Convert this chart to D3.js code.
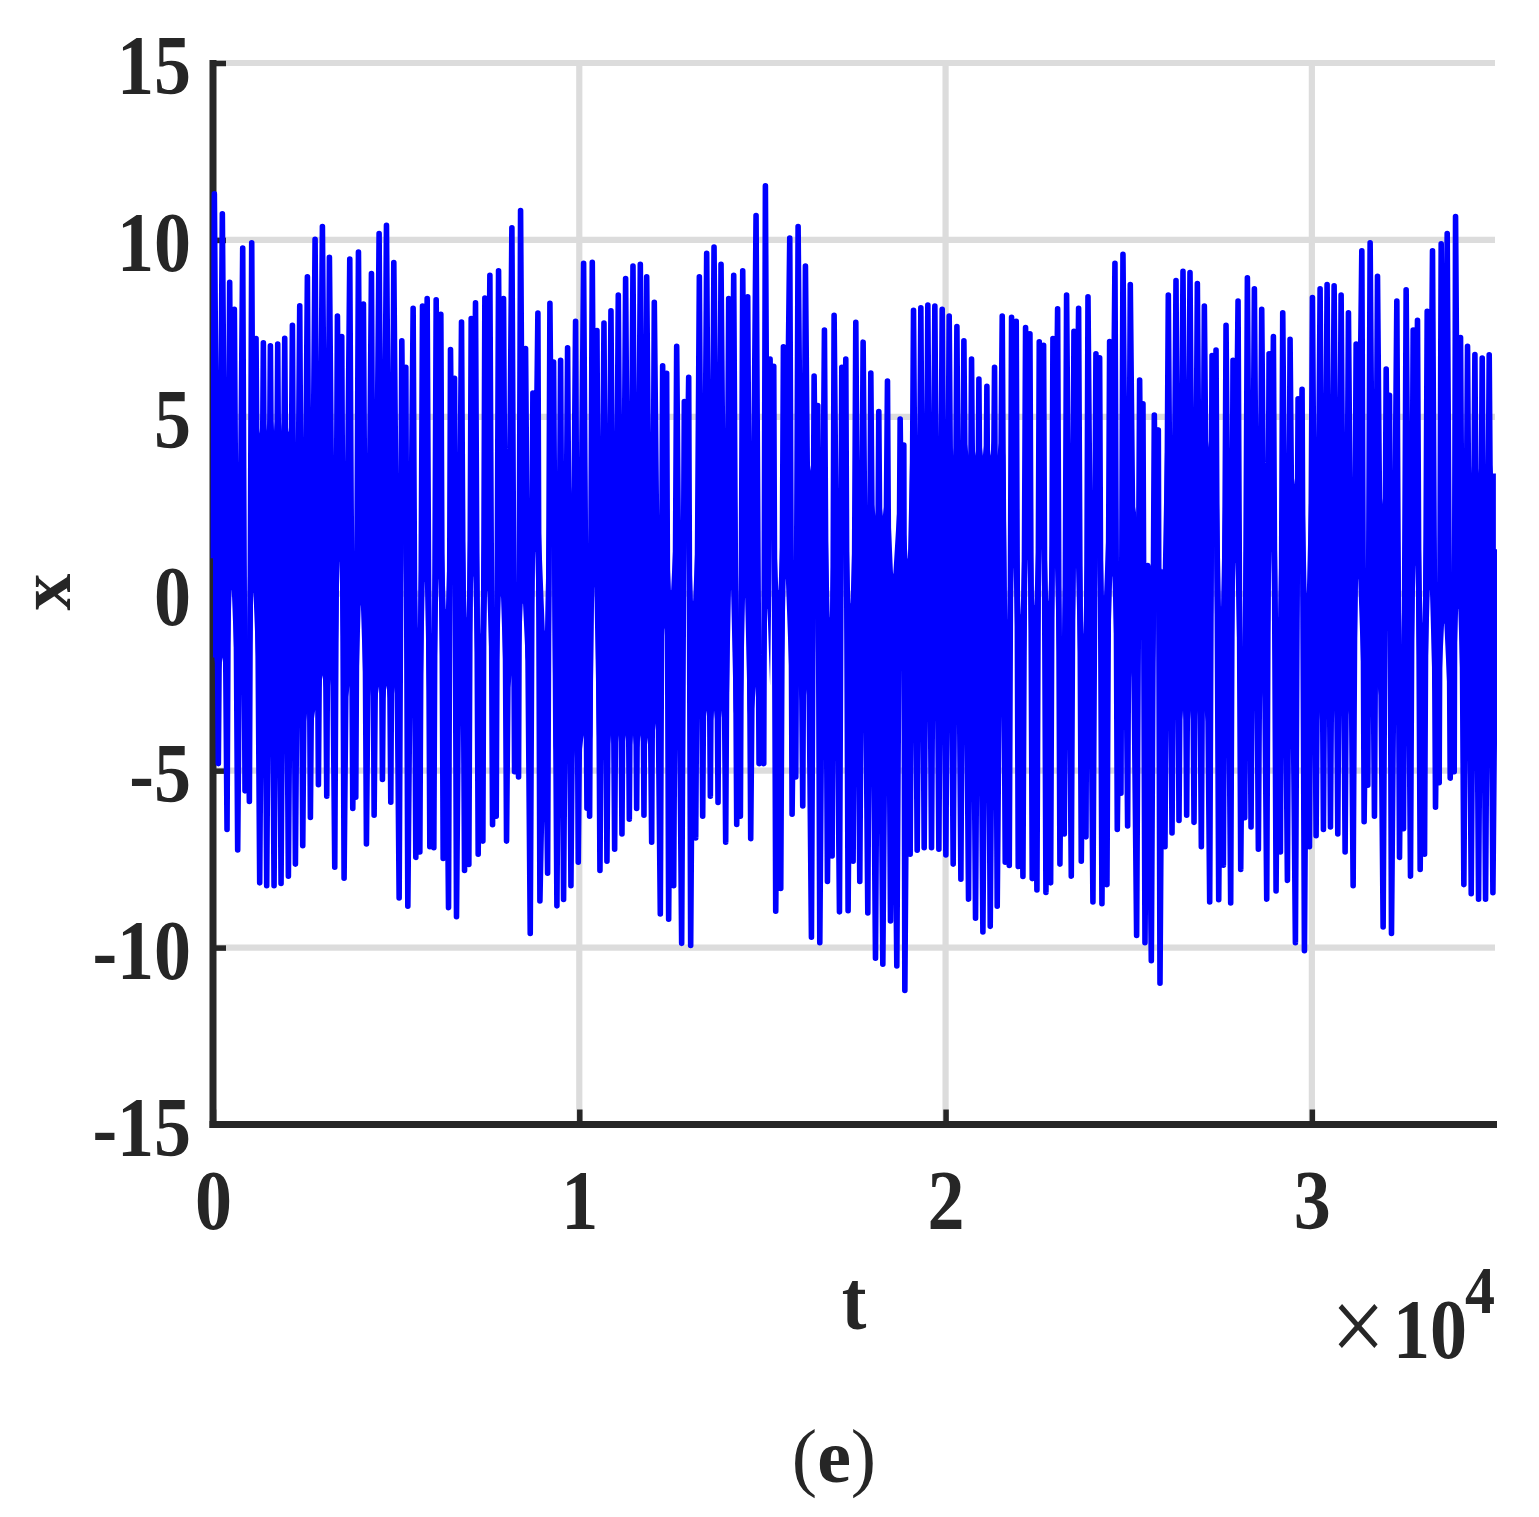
<!DOCTYPE html>
<html><head><meta charset="utf-8">
<script src="https://d3js.org/d3.v7.min.js"></script>
<style>html,body{margin:0;padding:0;background:#fff}svg{display:block}text{font-family:"Liberation Serif",serif;fill:#262626}</style>
</head><body><svg id="c" width="1539" height="1517"></svg>
<script>
const xTicks=[0,10000,20000,30000];
const xTickLabels=["0","1","2","3"];
const yTicks=[-15,-10,-5,0,5,10,15];
const swingT=[0,37,146,255,383,455,510,583,674,811,874,929,993,1057,1102,1175,1275,1375,1466,1567,1667,1767,1858,1958,2058,2168,2250,2368,2450,2577,2659,2787,2878,2987,3106,3178,3324,3397,3452,3515,3579,3734,3816,3861,3898,3971,4035,4107,4189,4326,4399,4535,4626,4736,4854,4936,5082,5155,5200,5264,5319,5464,5537,5592,5647,5720,5783,5847,5920,5974,6029,6093,6156,6220,6284,6357,6430,6484,6539,6594,6648,6785,6867,6921,6985,7049,7104,7167,7240,7295,7368,7422,7486,7559,7632,7677,7732,7796,7860,7932,8014,8160,8233,8288,8342,8397,8460,8533,8661,8733,8797,8870,8925,9062,9135,9198,9253,9298,9389,9490,9571,9681,9772,9899,9972,10118,10209,10245,10282,10355,10409,10482,10564,10674,10755,10865,10965,11065,11165,11265,11366,11466,11566,11666,11766,11840,11976,12048,12212,12276,12331,12385,12440,12504,12577,12659,12795,12868,12932,12987,13041,13105,13178,13278,13369,13478,13578,13679,13788,13870,13997,14079,14143,14216,14298,14343,14398,14462,14526,14598,14680,14826,14908,14963,15036,15081,15136,15209,15263,15309,15363,15436,15500,15573,15637,15746,15810,15855,15910,15974,16101,16174,16338,16411,16465,16511,16566,16693,16775,16839,16903,16957,17103,17167,17221,17276,17339,17403,17476,17549,17658,17749,17877,17959,18087,18177,18287,18414,18496,18569,18669,18760,18815,18860,18888,18970,19033,19125,19225,19325,19416,19516,19616,19707,19817,19908,20008,20099,20208,20309,20418,20500,20627,20709,20818,20910,21019,21128,21219,21337,21410,21547,21629,21684,21739,21802,21857,21929,21984,22048,22112,22184,22239,22303,22366,22421,22494,22558,22613,22676,22740,22804,22868,22931,22986,23059,23122,23177,23241,23304,23432,23505,23560,23632,23705,23760,23833,23888,24023,24105,24142,24206,24269,24324,24406,24479,24552,24624,24688,24743,24788,24843,24970,25043,25216,25298,25344,25389,25444,25517,25617,25699,25754,25808,25854,25927,25990,26081,26182,26291,26373,26482,26582,26673,26783,26874,26983,27065,27211,27275,27329,27384,27457,27520,27584,27657,27784,27848,27912,27985,28058,28112,28167,28240,28340,28431,28540,28631,28768,28832,28896,28950,29023,29078,29141,29205,29333,29405,29551,29624,29679,29733,29797,29861,29934,30016,30116,30225,30316,30416,30508,30608,30708,30799,30908,30999,31127,31209,31263,31364,31427,31482,31527,31591,31709,31792,31946,32029,32074,32120,32174,32320,32393,32447,32502,32574,32693,32766,32829,32884,32957,33021,33076,33149,33221,33294,33376,33431,33476,33531,33613,33695,33777,33832,33886,33923,33996,34059,34150,34250,34351,34451,34551,34651,34742,34842,34943,35024];
const swingX=[1,11.3,-4.8,10.74,-6.66,8.8,0.18,8.04,-7.24,9.77,-5.57,-1.35,-5.87,9.92,0.1,7.21,-8.17,7.09,-8.25,7.01,-8.25,7.06,-8.19,7.22,-7.98,7.59,-7.64,8.14,-7.12,8.96,-6.32,10.02,-5.4,10.38,-5.72,9.51,-7.73,7.85,0.98,7.27,-8.04,9.46,-6.07,-1.8,-5.75,9.66,-0.25,8.19,-7.07,9.05,-6.26,10.18,-5.25,10.41,-5.89,9.36,-8.6,7.15,1.56,6.4,-8.83,8.07,-7.45,-1.04,-7.3,8.13,0.41,8.34,-7.15,-1.2,-7.18,8.31,0.49,7.9,-7.48,-0.51,-8.87,6.9,0.95,6.09,-9.13,7.68,-7.82,-0.74,-7.65,7.78,0.57,8.22,-7.36,-1.2,-6.99,8.36,0.15,9,-6.53,-1.8,-6.29,9.13,0,8.34,-6.99,10.34,-5.03,-1.27,-5.18,10.83,-0.2,6.93,-9.6,5.67,1.26,7.93,-8.68,-1.12,-7.9,8.21,1.41,6.55,-8.82,6.6,-8.64,6.95,-8.25,7.7,-7.59,9.34,-6.06,-1.73,-6.29,9.37,0.26,7.44,-7.82,7.65,-7.56,8,-7.22,8.44,-6.79,8.91,-6.37,9.26,-6.07,9.31,-6.26,8.96,-7.02,8.24,-9.05,6.44,-0.9,6.23,-9.2,0.03,-8.25,6.99,-9.88,5.43,1.87,6.12,-9.94,-0.28,-6.9,8.96,-6.29,9.62,-5.72,9.8,-5.9,9.31,-7.02,8.34,0.18,9,-6.52,-0.74,-6.29,9.13,-0.05,8.39,-6.92,10.69,-4.8,-2.12,-4.8,11.53,-0.35,6.63,1.72,6.43,-8.97,0.03,-8.33,6.98,0.49,10.05,-6.23,-1.8,-5.18,10.38,-6,9.26,-9.71,6.15,0.2,5.32,-9.86,7.45,-8.13,-0.74,-7.41,7.87,-8.99,6.4,1.56,6.63,-8.96,-0.35,-7.56,7.67,-8.13,7.11,-9.02,6.24,-10.3,5.15,-10.47,6.01,-9.25,0.49,-10.52,4.94,-0.58,4.2,-11.21,0.92,-7.36,8.01,-7.25,8.08,-7.18,8.16,-7.18,8.13,-7.22,8.04,-7.38,7.85,-7.64,7.55,-8.07,7.15,-8.63,6.63,-9.17,6.07,-9.56,5.86,-9.4,6.4,-8.83,7.85,-7.59,-0.81,-7.68,7.81,0.8,7.7,-7.71,-0.66,-7.99,7.52,1.03,7.35,-8.05,-0.4,-8.37,7.12,1.33,7.02,-8.44,-0.28,-8.17,7.21,0.8,8.05,-7.64,-1.27,-6.79,8.44,-7.98,7.42,0.8,8.07,-7.56,-1.2,-6.87,8.39,-8.71,6.78,1.1,6.67,-8.76,-0.12,-8.22,7.13,0.57,9.34,-6.66,-1.81,-5.64,9.59,-6.56,8.74,-9.66,6.04,0.3,5.37,-9.86,0.8,-10.37,5.05,-0.43,4.63,-11.01,0.61,-7.15,8.44,-6.76,8.85,-6.41,9.11,-6.26,9.08,-6.46,8.77,-7.15,8.13,-8.71,6.73,1.41,6.89,-8.65,-0.43,-7.67,7.59,-8.74,6.6,0.95,8.27,-7.79,-1.58,-6.33,8.93,-6.59,8.62,-7.22,8.04,-8.63,6.78,1.26,7.27,-8.4,-0.74,-7.3,7.94,-8.1,7.19,-9.86,5.51,1.56,5.78,-10.09,-0.05,-7.15,8.37,-6.84,8.62,-6.66,8.74,-6.59,8.7,-6.79,8.44,-7.3,7.94,-8.25,7.06,0.49,9.69,-6.44,-1.04,-5.41,9.92,-6.29,8.97,-9.42,6.35,0.64,5.61,-9.6,8.27,-7.45,-1.5,-6.64,8.59,-7.98,7.45,0.87,7.73,-7.79,-0.89,-7.36,7.98,0.18,9.69,-6.03,-0.81,-5.34,9.89,-0.77,10.18,-5.21,-0.74,-5.03,10.66,-0.35,7.24,-8.22,6.99,-8.48,6.76,-8.63,6.66,-8.63,6.75,-8.45,1.26];
// Solid core of the trace: where each stretch ends, and its upper and lower edge.
const coreEnd=[1193,2104,2832,3561,5109,6293,6931,8297,9116,10027,12121,13214,14762,15582,16402,18952,21684,24051,25235,25963,27238,29879,31154,34068,35100];
const coreHi=[3.2,4.6,3.4,2.5,3,1.9,2.2,2.8,2.5,2.8,3.9,1.6,3.4,1.9,3.4,2.2,3.9,2,2.2,0.8,4,3,3.1,2.5,3.4];
const coreLo=[-1.8,-4,-3.3,-2.3,-2.6,-3,-3,-2.3,-1.8,-4.3,-4,-1.8,-3.3,-2.6,-2.6,-3.3,-3.3,-2.4,-2.1,-2.7,-3.3,-2.7,-3.3,-2.6,-4.3];

const svg=d3.select("#c");
const x=d3.scaleLinear().domain([0,35000]).range([213,1495]);
const y=d3.scaleLinear().domain([-15,15]).range([1124.5,63]);
const INK="#262626",GRID="#dcdcdc",BLUE="#0000ff",STRETCH=1.13;

svg.append("defs").append("clipPath").attr("id","pl").append("rect")
  .attr("x",210.5).attr("y",40).attr("width",1286.5).attr("height",1085);

const grid=svg.append("g");
grid.selectAll(".gx").data(xTicks.slice(1)).join("line").attr("x1",d=>x(d)).attr("x2",d=>x(d))
  .attr("y1",y(15)-3).attr("y2",y(-15)).attr("stroke",GRID).attr("stroke-width",6.2);
grid.selectAll(".gy").data(yTicks.slice(1)).join("line").attr("x1",x(0)).attr("x2",x(35000))
  .attr("y1",d=>y(d)).attr("y2",d=>y(d)).attr("stroke",GRID).attr("stroke-width",6.2);

function styleAxis(g){
  g.select(".domain").attr("stroke",INK).attr("stroke-width",7).attr("fill","none");
  g.selectAll(".tick line").attr("stroke",INK).attr("stroke-width",5.5);
  g.selectAll(".tick text").attr("fill",INK).attr("font-weight","bold")
   .attr("font-family","Liberation Serif").attr("font-size",74)
   .attr("transform",`scale(1,${STRETCH})`);
}
const ax=svg.append("g").attr("transform",`translate(0,${y(-15)})`)
  .call(d3.axisBottom(x).tickValues(xTicks).tickFormat((d,i)=>xTickLabels[i]).tickSize(-15).tickSizeOuter(0).tickPadding(40));
const ay=svg.append("g").attr("transform",`translate(${x(0)},0)`)
  .call(d3.axisLeft(y).tickValues(yTicks).tickSize(-13).tickSizeOuter(0).tickPadding(22).tickFormat(d=>String(d)));
styleAxis(ax);styleAxis(ay);
ay.selectAll(".tick text").attr("dy","0.37em");
ax.select(".domain").attr("d",`M${x(0)-3.5},0H${x(35000)+2}`);
ay.select(".domain").attr("d",`M0,${y(15)-3}V${y(-15)+3.5}`);

// Core fill follows the trace's own turning points: a shallow V leaves the slot beneath it open, a shallow peak the slot above it.
const coreAt=(t,a)=>a[Math.min(d3.bisectLeft(coreEnd,t),a.length-1)];
const core=swingT.map((t,i)=>{
  const v=swingX[i],p=swingX[i-1],n=swingX[i+1];
  const isMax=v>p&&v>n, isMin=v<p&&v<n;
  let hi=coreAt(t,coreHi),lo=coreAt(t,coreLo);
  if(isMax) hi+=1; // hidden behind the tall strokes; tapers the slivers between them
  if(isMin) lo-=1;
  if(isMin&&v>-3) lo=v;
  if(isMax&&v<3) hi=v;
  return [t,Math.max(hi,lo),Math.min(hi,lo)];
});
const plot=svg.append("g").attr("clip-path","url(#pl)");
plot.append("path").datum(core)
  .attr("d",d3.area().x(d=>x(d[0])).y0(d=>y(d[2])).y1(d=>y(d[1]))).attr("fill",BLUE);
plot.append("path").datum(swingT.map((t,i)=>[t,swingX[i]]))
  .attr("d",d3.line().x(d=>x(d[0])).y(d=>y(d[1]))).attr("fill","none")
  .attr("stroke",BLUE).attr("stroke-width",5.6).attr("stroke-linejoin","round");

function label(px,py,size,bold,txt,anchor){
  return svg.append("text").attr("transform",`translate(${px},${py}) scale(1,${STRETCH})`)
    .attr("text-anchor",anchor||"start").attr("font-size",size)
    .attr("font-weight",bold?"bold":"normal").text(txt);
}
label(854,1329,74,true,"t","middle");
svg.append("text").attr("transform","translate(70,592) rotate(-90)").attr("text-anchor","middle")
  .attr("font-size",74).attr("font-weight","bold").text("x");
label(1331,1362,96,false,"×");
label(1393,1358,74,true,"10");
label(1465,1313,60,true,"4");
const cap=svg.append("text").attr("x",834).attr("y",1482).attr("text-anchor","middle").attr("font-size",76);
cap.append("tspan").text("(");cap.append("tspan").attr("font-weight","bold").text("e");cap.append("tspan").text(")");
</script></body></html>
